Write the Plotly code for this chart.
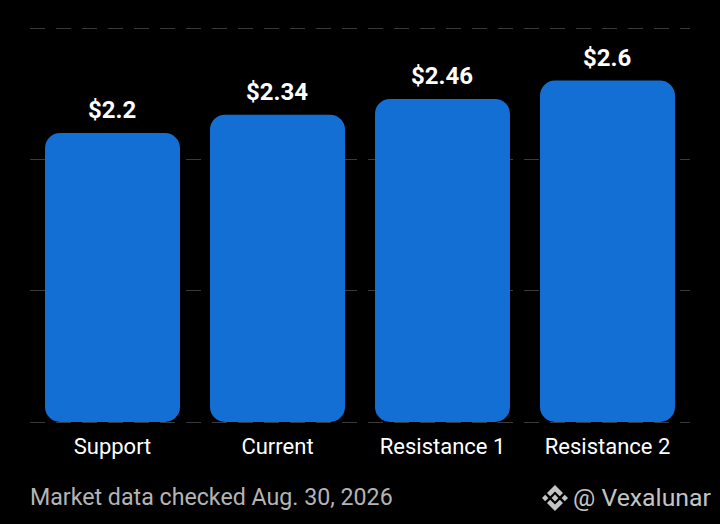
"""
    Main purpose:
        Price levels bar chart (support, current, resistances)
"""

import plotly.graph_objects as go

levels = ['Support', 'Current', 'Resistance 1', 'Resistance 2']
prices = [2.2, 2.34, 2.46, 2.6]
price_labels = ['$2.2', '$2.34', '$2.46', '$2.6']
bar_bases = [0, 0, 0, 0]
y_ticks = [0, 1, 2, 3]

WIDTH = 720
HEIGHT = 524
BAR_COLOR = '#136FD3'
# Plot area in pixels, 2px larger than the grid so the end lines are kept
LEFT, RIGHT, TOP, BOTTOM = 30, 690, 26, 424
UNIT_PX = 131.33
PAD = 2 / UNIT_PX


def px_x(x):
    """Pixel position to paper x"""
    return (x - LEFT) / (RIGHT - LEFT)


def px_y(y):
    """Pixel position to paper y"""
    return (BOTTOM - y) / (BOTTOM - TOP)


def polygon(points):
    """Closed svg path from pixel points"""
    coords = [f'{px_x(x):.5f},{px_y(y):.5f}' for x, y in points]
    return 'M' + ' L'.join(coords) + ' Z'


def diamond(cx, cy, r):
    """Small diamond path, pixel centre and radius"""
    return polygon([(cx, cy - r), (cx + r, cy), (cx, cy + r), (cx - r, cy)])


def chevron(cx, cy, outer, thick, sign):
    """Logo chevron, sign -1 points up and 1 points down"""
    return polygon([
        (cx - outer, cy - sign * outer),
        (cx, cy),
        (cx + outer, cy - sign * outer),
        (cx + outer - thick, cy - sign * (outer + thick)),
        (cx, cy - sign * 2 * thick),
        (cx - outer + thick, cy - sign * (outer + thick)),
    ])


fig = go.Figure()
# An explicit base makes plotly round both ends of the bar
fig.add_trace(go.Bar(
    x=levels,
    y=prices,
    base=bar_bases,
    marker=dict(color=BAR_COLOR, line=dict(width=0)),
    hoverinfo='skip',
))

value_annotations = [
    dict(
        x=level, y=price, text=label,
        xref='x', yref='y', yanchor='bottom', yshift=7, xshift=-1, showarrow=False,
        font=dict(family='Roboto', size=24, color='white', weight='bold'),
    )
    for level, price, label in zip(levels, prices, price_labels)
]

# Binance style logo next to the handle
LOGO_X, LOGO_Y = 555, 498
logo_paths = [
    diamond(LOGO_X, LOGO_Y, 3.4),
    diamond(LOGO_X - 9.8, LOGO_Y, 3.2),
    diamond(LOGO_X + 9.8, LOGO_Y, 3.2),
    chevron(LOGO_X, LOGO_Y - 13, 8, 3.2, -1),
    chevron(LOGO_X, LOGO_Y + 13, 8, 3.2, 1),
]
shapes = [
    dict(
        type='path', path=path, xref='paper', yref='paper',
        fillcolor='#c4c4c4', line=dict(width=0),
    )
    for path in logo_paths
]

fig.update_layout(
    width=WIDTH,
    height=HEIGHT,
    margin=dict(l=LEFT, r=WIDTH - RIGHT, t=TOP, b=HEIGHT - BOTTOM, autoexpand=False),
    plot_bgcolor='black',
    paper_bgcolor='black',
    barmode='overlay',
    bargap=0.182,
    barcornerradius=15,
    showlegend=False,
    font=dict(family='Roboto', color='white'),
    shapes=shapes,
    annotations=value_annotations + [
        dict(
            text='Market data checked Aug. 30, 2026',
            xref='paper', yref='paper', x=px_x(28), y=px_y(497),
            xanchor='left', yanchor='middle', showarrow=False,
            font=dict(family='Roboto', size=23.2, color='#b4b4b4'),
        ),
        dict(
            text='@ Vexalunar',
            xref='paper', yref='paper', x=px_x(713), y=px_y(497),
            xanchor='right', yanchor='middle', showarrow=False,
            font=dict(family='Roboto', size=24.8, color='#c4c4c4'),
        ),
    ],
)
fig.update_xaxes(
    showgrid=False,
    showline=False,
    ticks='outside',
    ticklen=3,
    tickcolor='rgba(0,0,0,0)',
    tickfont=dict(family='Roboto', size=22, color='white'),
)
fig.update_yaxes(
    range=[-PAD, 3 + PAD],
    tickvals=y_ticks,
    showticklabels=False,
    zeroline=False,
    showgrid=True,
    gridcolor='#3a3a3a',
    gridwidth=1,
    griddash='15px,11px',
)

fig.write_html(
    'out.html',
    config={'displayModeBar': False},
    post_script="document.body.style.margin='0';",
)
